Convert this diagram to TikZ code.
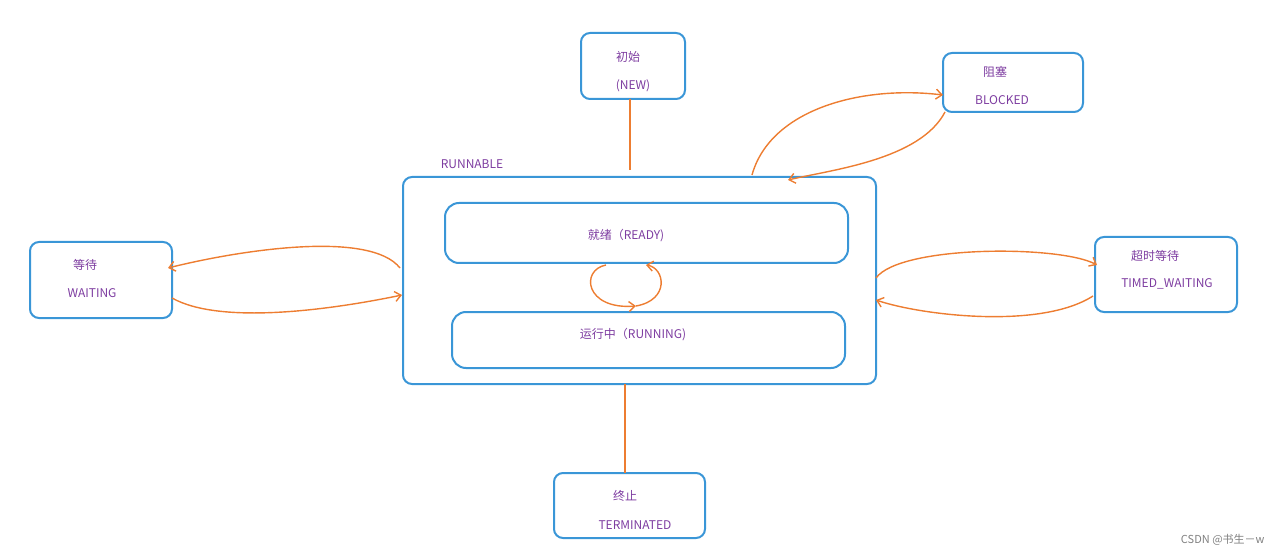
\documentclass[tikz,border=0pt]{standalone}
\usepackage{fontspec}
\setmainfont{Noto Sans CJK SC}
\usetikzlibrary{arrows.meta}
\definecolor{bl}{RGB}{58,150,215}
\definecolor{og}{RGB}{237,125,49}
\definecolor{pt}{RGB}{125,60,160}
\begin{document}
\begin{tikzpicture}[x=1pt,y=-1pt,
  box/.style={draw=bl,line width=2pt,rounded corners=9pt},
  lab/.style={text=pt,font=\fontsize{12}{14}\selectfont,inner sep=0pt},
  con/.style={draw=og,line width=1.4pt},
  arr/.style={con,-{Straight Barb[length=6pt,width=10pt]}}]
\useasboundingbox (0,0) rectangle (1283,556);
\draw[box] (581,33) rectangle (685,99); \coordinate (newb) at (630,99);
\node[lab] (t1) at (628,57) {初始};
\node[lab] (t2) at (633,86) {(NEW)};
\draw[box] (943,53) rectangle (1083,112);
\node[lab] (t3) at (995,72) {阻塞};
\node[lab] (t4) at (1002,100) {BLOCKED};
\draw[box] (403,177) rectangle (876,384);
\node[lab] (t5) at (472,164) {RUNNABLE};
\draw[box,rounded corners=14pt] (445,203) rectangle (848,263);
\node[lab] (t6) at (626,236) {就绪（READY)};
\draw[box,rounded corners=14pt] (452,312) rectangle (845,368);
\node[lab] (t7) at (633,335) {运行中（RUNNING)};
\draw[box] (30,242) rectangle (172,318);
\node[lab] (t8) at (85,265) {等待};
\node[lab] (t9) at (92,293) {WAITING};
\draw[box] (1095,237) rectangle (1237,312);
\node[lab] (t10) at (1155,256) {超时等待};
\node[lab] (t11) at (1167,284) {TIMED\_WAITING};
\draw[box] (554,473) rectangle (705,538);
\node[lab] (t12) at (625,496) {终止};
\node[lab] (t13) at (635,525) {TERMINATED};
\node[text=gray,font=\fontsize{11}{13}\selectfont,anchor=east] (wm) at (1268,540) {CSDN @书生－w};
\coordinate (nb) at (630,99); \coordinate (rt) at (630,170);
\draw[con] (nb) -- (rt);
\coordinate (rb) at (625,384); \coordinate (tt) at (625,473);
\draw[con] (rb) -- (tt);
\coordinate (a1) at (752,175); \coordinate (a2) at (943,95);
\draw[arr] (a1) .. controls (770,110) and (860,85) .. (a2);
\coordinate (b1) at (945,112); \coordinate (b2) at (788,180);
\draw[arr] (b1) .. controls (920,160) and (830,170) .. (b2);
\coordinate (c1) at (400,268); \coordinate (c2) at (168,268);
\draw[arr] (c1) .. controls (370,230) and (240,250) .. (c2);
\coordinate (d1) at (172,298); \coordinate (d2) at (402,295);
\draw[arr] (d1) .. controls (220,325) and (330,310) .. (d2);
\coordinate (e1) at (876,278); \coordinate (e2) at (1097,265);
\draw[arr] (e1) .. controls (900,245) and (1060,245) .. (e2);
\coordinate (f1) at (1093,296); \coordinate (f2) at (876,300);
\draw[arr] (f1) .. controls (1040,330) and (920,315) .. (f2);
\coordinate (g1) at (606,265); \coordinate (g2) at (636,306);
\draw[arr] (g1) .. controls (580,270) and (585,310) .. (g2);
\coordinate (h1) at (636,306); \coordinate (h2) at (646,265);
\draw[arr] (h1) .. controls (670,300) and (665,268) .. (h2);
\end{tikzpicture}
\end{document}
